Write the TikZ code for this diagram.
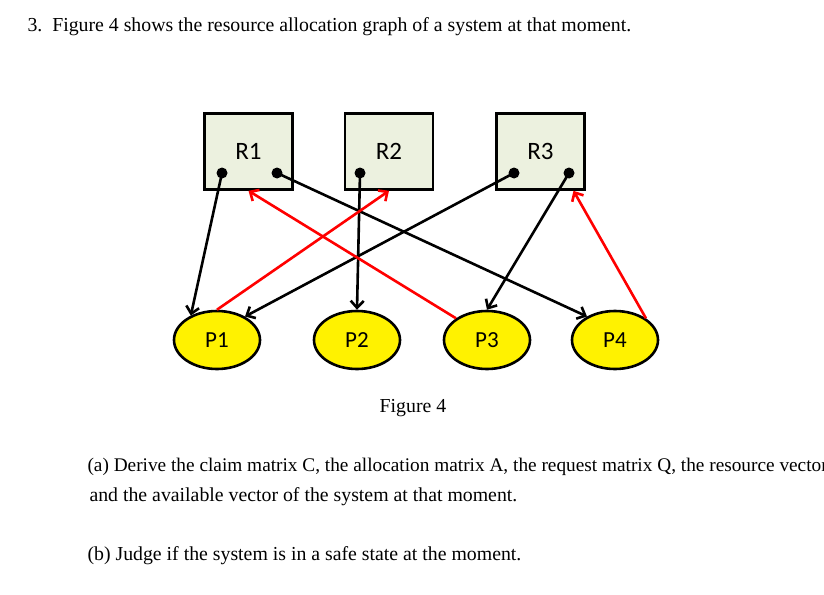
\documentclass[tikz,border=0pt]{standalone}
\usepackage{fontspec}
\setmainfont{Liberation Serif}
\newfontfamily\calib{Carlito}
\usetikzlibrary{arrows.meta, shapes.geometric}
\definecolor{boxfill}{RGB}{236,241,223}

\begin{document}
\begin{tikzpicture}[x=1pt, y=-1pt, >={Straight Barb[length=7pt,width=13pt]},
    res/.style = {draw, line width=2.6pt, fill=boxfill, rectangle, minimum width=88pt, minimum height=76pt, font=\calib\fontsize{25}{27}\selectfont, inner sep=0pt},
    proc/.style = {draw, line width=2.6pt, fill=yellow, ellipse, minimum width=86pt, minimum height=58pt, font=\calib\fontsize{23}{25}\selectfont},
    inst/.style = {circle, fill=black, inner sep=0pt, minimum size=11pt},
    alloc/.style = {->, line width=2.6pt, black},
    req/.style = {->, line width=2.6pt, red},
    txt/.style = {anchor=west, font=\fontsize{19.8}{22}\selectfont}]
    \useasboundingbox (0,0) rectangle (824,594);

    % text
    \node[txt] (q) at (24,27) {3.\ \ Figure 4 shows the resource allocation graph of a system at that moment.};

    % resources
    \node [res] (R1) at (248.5,151.5) {R1};
    \node [res] (R2) at (389,151.5) {R2};
    \node [res] (R3) at (540.5,151.5) {R3};
    \node [inst] (r1a) at (222,173) {};
    \node [inst] (r1b) at (277,173) {};
    \node [inst] (r2a) at (360,173) {};
    \node [inst] (r3a) at (514,173) {};
    \node [inst] (r3b) at (569,173) {};

    % processes
    \node [proc] (P1) at (217,340) {P1};
    \node [proc] (P2) at (357,340) {P2};
    \node [proc] (P3) at (487,340) {P3};
    \node [proc] (P4) at (615,340) {P4};

    % allocation edges
    \draw [alloc] (r1a.center) -- (P1.137);
    \draw [alloc] (r1b.center) -- (P4.140);
    \draw [alloc] (r2a.center) -- (P2.90);
    \draw [alloc] (r3a.center) -- (P1.40);
    \draw [alloc] (r3b.center) -- (P3.90);

    % request edges
    \draw [req] (P1.90) -- (R2.south);
    \draw [req] (P3.145) -- (R1.south);
    \draw [req] (P4.35) -- (R3.-50);

    \node[font=\fontsize{19.8}{22}\selectfont] (cap) at (413,408) {Figure 4};
    \node[txt, font=\fontsize{19.3}{22}\selectfont] (qa) at (84,467) {(a) Derive the claim matrix C, the allocation matrix A, the request matrix Q, the resource vector};
    \node[txt] (qa2) at (86,497) {and the available vector of the system at that moment.};
    \node[txt] (qb) at (84,556) {(b) Judge if the system is in a safe state at the moment.};
\end{tikzpicture}
\end{document}
